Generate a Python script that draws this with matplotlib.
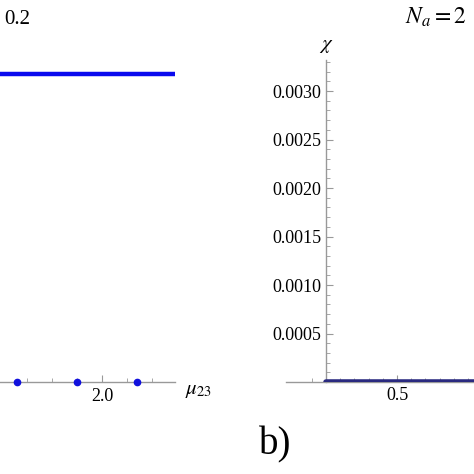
import matplotlib
matplotlib.use("Agg")
import matplotlib.pyplot as plt
from matplotlib.ticker import MultipleLocator, FixedLocator

plt.rcParams['font.family'] = ['Liberation Serif', 'DejaVu Serif']
plt.rcParams['mathtext.fontset'] = 'stix'

# left panel data
left_dots_x = [1.66, 1.90, 2.14]
left_dots_y = [0.0, 0.0, 0.0]
left_line_x = [1.55, 2.292]
left_line_y = [0.170, 0.170]
# right panel data
right_line_x = [0.0, 1.1]
right_line_y = [0.0, 0.0]
right_yticks = [0.0005, 0.0010, 0.0015, 0.0020, 0.0025, 0.0030]

W = 474.0
fig = plt.figure(figsize=(4.74, 4.74), dpi=100)

def px(x0, y_top, x1, y_bot):
    return [x0 / W, 1 - y_bot / W, (x1 - x0) / W, (y_bot - y_top) / W]

gray = '#999999'

# Left panel
axl = fig.add_axes(px(0, 20, 175, 382))
axl.set_xlim(1.592, 2.292)
axl.set_ylim(0, 0.2)
for s in ['left', 'right', 'top']:
    axl.spines[s].set_visible(False)
axl.spines['bottom'].set_color(gray)
axl.spines['bottom'].set_linewidth(1)
axl.plot(left_line_x, left_line_y, color='#0a0aee', lw=3.2, solid_capstyle='butt', clip_on=True)
axl.plot(left_dots_x, left_dots_y, 'o', color='#1010dd', ms=4.5, clip_on=False, zorder=5)
axl.set_yticks([])
axl.xaxis.set_major_locator(FixedLocator([2.0]))
axl.xaxis.set_minor_locator(FixedLocator([1.7, 1.8, 1.9, 2.1, 2.2]))
axl.set_xticklabels(['2.0'])
axl.tick_params(axis='x', which='major', direction='in', length=5, color=gray, labelsize=13, pad=4)
axl.tick_params(axis='x', which='minor', direction='in', length=3, color=gray)
fig.text(4 / W, 1 - 20 / W, '0.2', fontsize=15, va='center', ha='left')
fig.text(185 / W, 1 - 390 / W, r'$\mu_{23}$', fontsize=15, va='center', ha='left')

# Right panel
axr = fig.add_axes(px(286, 60, 474, 382))
axr.set_xlim(-0.282, 1.042)
axr.set_ylim(0, 0.00332)
axr.spines['left'].set_position(('data', 0))
axr.spines['right'].set_visible(False)
axr.spines['top'].set_visible(False)
for s in ['left', 'bottom']:
    axr.spines[s].set_color(gray)
    axr.spines[s].set_linewidth(1)
axr.plot(right_line_x, right_line_y, color='#2a2a80', lw=4, solid_capstyle='round', clip_on=True, zorder=5)
axr.set_yticks(right_yticks)
axr.set_yticklabels([f'{v:.4f}' for v in right_yticks])
axr.yaxis.set_minor_locator(MultipleLocator(0.0001))
axr.xaxis.set_major_locator(FixedLocator([0.5]))
axr.xaxis.set_minor_locator(FixedLocator([-0.1, 0.1, 0.2, 0.3, 0.4, 0.6, 0.7, 0.8, 0.9, 1.0]))
axr.set_xticklabels(['0.5'])
axr.tick_params(axis='both', which='major', direction='in', length=5, color=gray, labelsize=13)
axr.tick_params(axis='both', which='minor', direction='in', length=3, color=gray)
fig.text(326 / W, 1 - 45 / W, r'$\chi$', fontsize=15, va='center', ha='center')

fig.text(405 / W, 1 - 17 / W, r'$N_a = 2$', fontsize=17, va='center', ha='left')
fig.text(275 / W, 1 - 445 / W, 'b)', fontsize=28, va='center', ha='center')

fig.savefig('out.png', dpi=100)
